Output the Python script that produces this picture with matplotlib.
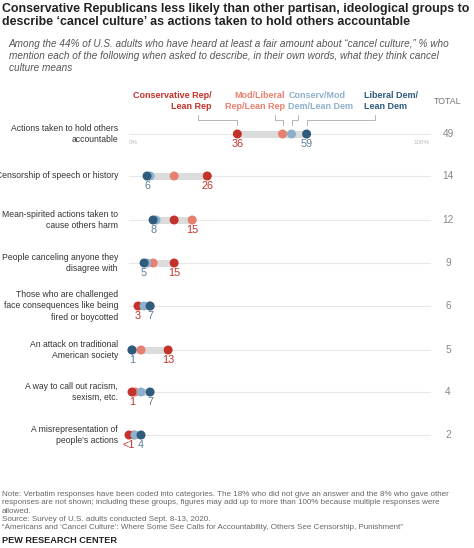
import matplotlib
matplotlib.use("Agg")
import matplotlib.pyplot as plt
plt.rcParams['font.family'] = ['Liberation Sans', 'DejaVu Sans']

categories = ["Actions taken to hold others\naccountable", "Censorship of speech or history",
              "Mean-spirited actions taken to\ncause others harm", "People canceling anyone they\ndisagree with",
              "Those who are challenged\nface consequences like being\nfired or boycotted",
              "An attack on traditional\nAmerican society", "A way to call out racism,\nsexism, etc.",
              "A misrepresentation of\npeople's actions"]
cons_rep = [36, 26, 15, 15, 3, 13, 1, 0]
mod_lib_rep = [51, 15, 21, 8, 7, 4, 2, 1.5]
cons_mod_dem = [54, 7, 9, 6, 5, 1, 4, 2]
lib_dem = [59, 6, 8, 5, 7, 1, 7, 4]
total = [49, 14, 12, 9, 6, 5, 4, 2]
low_labels = ["36", "6", "8", "5", "3", "1", "1", "<1"]
high_labels = ["59", "26", "15", "15", "7", "13", "7", "4"]
series_names = ["Conservative Rep/\nLean Rep", "Mod/Liberal\nRep/Lean Rep", "Conserv/Mod\nDem/Lean Dem", "Liberal Dem/\nLean Dem"]

C_CR, C_MLR, C_CMD, C_LD = "#c4332b", "#e8806f", "#8db0cc", "#2f5b7c"
LBL_D = "#5f7f99"

fig = plt.figure(figsize=(4.74, 5.48), dpi=100)
ax = fig.add_axes([0, 0, 1, 1])
x0, sc = 129, 3.01
ax.set_xlim(-x0 / sc, (474 - x0) / sc)
ax.set_ylim(548, 0)
ax.axis("off")

rows_y = [134, 176, 220, 263, 306, 350, 392, 435]
lo_colors = [C_CR, LBL_D, LBL_D, LBL_D, C_CR, LBL_D, C_CR, C_CR]
hi_colors = [LBL_D, C_CR, C_CR, C_CR, LBL_D, C_CR, LBL_D, LBL_D]
tc = "#333333"
for i, y in enumerate(rows_y):
    vals = [cons_rep[i], mod_lib_rep[i], cons_mod_dem[i], lib_dem[i]]
    ax.plot([0, 100], [y, y], color="#e8e8e8", lw=0.8, zorder=1)
    ax.plot([min(vals), max(vals)], [y, y], color="#dcdcdc", lw=5, solid_capstyle="butt", zorder=2)
    for v, c in zip([mod_lib_rep[i], cons_rep[i], cons_mod_dem[i], lib_dem[i]], [C_MLR, C_CR, C_CMD, C_LD]):
        ax.scatter([v], [y], s=42, color=c, zorder=3, edgecolors="none")
    ax.text(min(vals), y + 5, low_labels[i], color=lo_colors[i], ha="center", va="top", fontsize=7.8)
    ax.text(max(vals), y + 5, high_labels[i], color=hi_colors[i], ha="center", va="top", fontsize=7.8)
    ax.text(-11 / sc, y, categories[i], ha="right", va="center", fontsize=6.2, color=tc, linespacing=1.3)
    ax.text(106, y, str(total[i]), ha="center", va="center", fontsize=7.3, color="#888888")

ax.text(0, 143, "0%", fontsize=4.5, color="#bbbbbb", ha="left", va="center")
ax.text(100, 143, "100%", fontsize=4.5, color="#bbbbbb", ha="right", va="center")
ax.text(106, 101, "TOTAL", fontsize=6.3, color="#777777", ha="center", va="center")

hx = [(172 - x0) / sc, (255 - x0) / sc, (321 - x0) / sc, (391 - x0) / sc]
has = ["right", "right", "left", "left"]
for name, c, x, h in zip(series_names, [C_CR, C_MLR, C_CMD, C_LD], hx, has):
    ax.text(x, 101, name, color=c, fontsize=6.5, fontweight="bold", ha="center", va="center",
            linespacing=1.15, multialignment=h)
lead = [((198 - x0) / sc, cons_rep[0]), ((275 - x0) / sc, mod_lib_rep[0]),
        ((298 - x0) / sc, cons_mod_dem[0]), ((375 - x0) / sc, lib_dem[0])]
for lx, v in lead:
    ax.plot([lx, lx, v, v], [115, 120, 120, 125], color="#aaaaaa", lw=0.6)

fig.text(0.004, 0.994, "Conservative Republicans less likely than other partisan, ideological groups to\ndescribe \u2018cancel culture\u2019 as actions taken to hold others accountable",
         fontsize=8.9, fontweight="bold", va="top", ha="left", color="#222222", linespacing=1.1)
fig.text(0.018, 0.928, "Among the 44% of U.S. adults who have heard at least a fair amount about \u201ccancel culture,\u201d % who\nmention each of the following when asked to describe, in their own words, what they think cancel\nculture means",
         fontsize=7.2, style="italic", va="top", ha="left", color="#555555", linespacing=1.25)
fig.text(0.004, 0.104, "Note: Verbatim responses have been coded into categories. The 18% who did not give an answer and the 8% who gave other\nresponses are not shown; including these groups, figures may add up to more than 100% because multiple responses were\nallowed.\nSource: Survey of U.S. adults conducted Sept. 8-13, 2020.\n\u201cAmericans and \u2018Cancel Culture\u2019: Where Some See Calls for Accountability, Others See Censorship, Punishment\u201d",
         fontsize=5.8, va="top", ha="left", color="#666666", linespacing=1.25)
fig.text(0.004, 0.006, "PEW RESEARCH CENTER", fontsize=6.6, fontweight="bold", va="bottom", ha="left", color="#222222")
fig.savefig("out.png", dpi=100, facecolor="white")
